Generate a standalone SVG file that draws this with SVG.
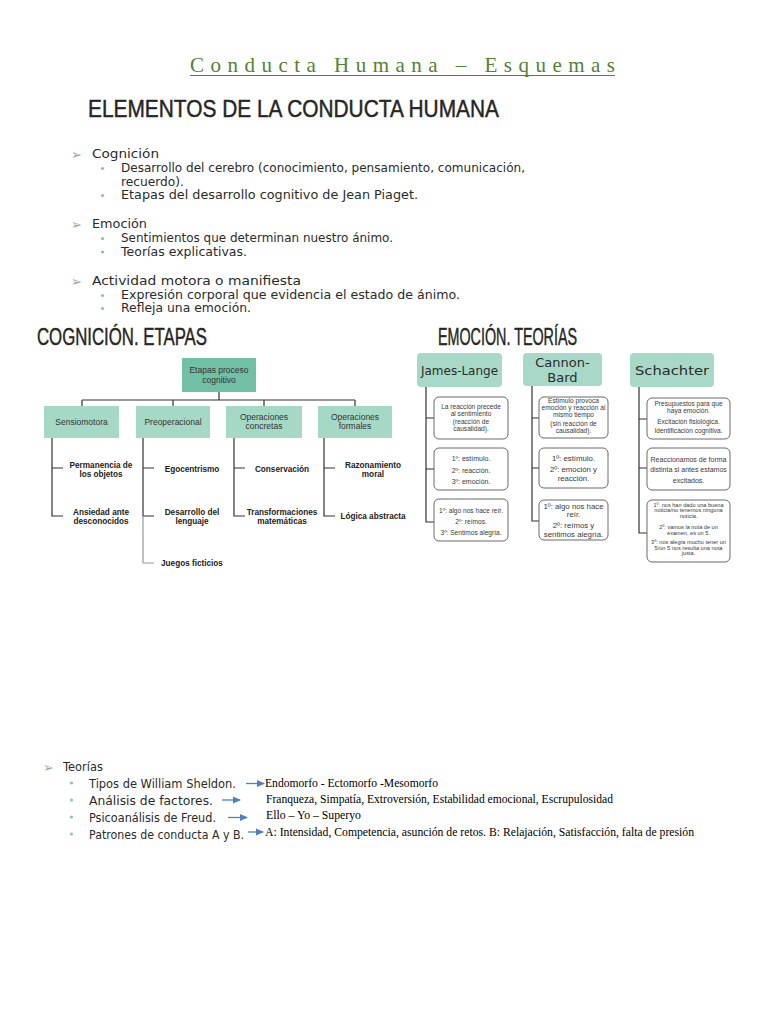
<svg xmlns="http://www.w3.org/2000/svg" width="768" height="1024" viewBox="0 0 768 1024">
<defs>
<style>
.title{font-family:"Liberation Serif",serif;font-size:21px;fill:#538135}
.hd{font-family:"Liberation Sans Narrow","Liberation Sans",sans-serif;font-size:23px;fill:#262626;stroke:#262626;stroke-width:0.45}
.b1{font-family:"DejaVu Sans",sans-serif;font-size:12.5px;fill:#2b2b2b}
.b2{font-family:"DejaVu Sans",sans-serif;font-size:11.5px;fill:#2b2b2b}
.arr{font-family:"DejaVu Sans",sans-serif;font-size:13px;fill:#8fac8f}
.dot{fill:#86c4ae}
.root{fill:#71bfa5}
.lvl{fill:#a6d8c6}
.bx{font-family:"Liberation Sans",sans-serif;font-size:8.5px;fill:#333;text-anchor:middle}
.ch{font-family:"Liberation Sans",sans-serif;font-size:8.2px;font-weight:bold;fill:#222;text-anchor:middle}
.ln{stroke:#333;stroke-width:1.2;fill:none}
.lng{stroke:#999;stroke-width:1.2;fill:none}
.eh{fill:#a8d8c7}
.eht{font-family:"DejaVu Sans",sans-serif;font-size:13px;fill:#2b2b2b;text-anchor:middle}
.eb{fill:#fff;stroke:#6a6a6a;stroke-width:1}
.s6{font-family:"Liberation Sans",sans-serif;font-size:6.6px;fill:#3a3a3a;text-anchor:middle}
.s7{font-family:"Liberation Sans",sans-serif;font-size:7px;fill:#3a3a3a;text-anchor:middle}
.s8{font-family:"Liberation Sans",sans-serif;font-size:7.8px;fill:#3a3a3a;text-anchor:middle}
.s5{font-family:"Liberation Sans",sans-serif;font-size:5.6px;fill:#3a3a3a;text-anchor:middle}
.tr{font-family:"Liberation Serif",serif;font-size:11.5px;fill:#000}
.blue{stroke:#4f81bd;stroke-width:1.3;fill:none}
</style>
<marker id="ah" markerWidth="8" markerHeight="8" refX="7" refY="4" orient="auto" markerUnits="userSpaceOnUse">
<path d="M0,0.5 L8,4 L0,7.5 Z" fill="#4f81bd"/>
</marker>
</defs>
<rect width="768" height="1024" fill="#fff"/>

<!-- Title -->
<g id="title">
<text class="title" x="190" y="72" textLength="425" lengthAdjust="spacing">Conducta Humana – Esquemas</text>
<line x1="190" y1="75.5" x2="615" y2="75.5" stroke="#538135" stroke-width="1"/>
</g>

<g id="elementos">
<text class="hd" x="88" y="116.5" textLength="411" lengthAdjust="spacingAndGlyphs">ELEMENTOS DE LA CONDUCTA HUMANA</text>
<text class="arr" x="71" y="158.5">➢</text>
<text class="b1" x="92" y="158" textLength="67" lengthAdjust="spacingAndGlyphs">Cognición</text>
<circle class="dot" cx="102.5" cy="168.5" r="1.6"/>
<text class="b2" x="121" y="172" textLength="404" lengthAdjust="spacingAndGlyphs">Desarrollo del cerebro (conocimiento, pensamiento, comunicación,</text>
<text class="b2" x="121" y="185.5" textLength="63" lengthAdjust="spacingAndGlyphs">recuerdo).</text>
<circle class="dot" cx="102.5" cy="195.5" r="1.6"/>
<text class="b2" x="121" y="199" textLength="297" lengthAdjust="spacingAndGlyphs">Etapas del desarrollo cognitivo de Jean Piaget.</text>
<text class="arr" x="71" y="228.5">➢</text>
<text class="b1" x="92" y="228" textLength="55" lengthAdjust="spacingAndGlyphs">Emoción</text>
<circle class="dot" cx="102.5" cy="238.5" r="1.6"/>
<text class="b2" x="121" y="242" textLength="272" lengthAdjust="spacingAndGlyphs">Sentimientos que determinan nuestro ánimo.</text>
<circle class="dot" cx="102.5" cy="252" r="1.6"/>
<text class="b2" x="121" y="255.5" textLength="126" lengthAdjust="spacingAndGlyphs">Teorías explicativas.</text>
<text class="arr" x="71" y="285.5">➢</text>
<text class="b1" x="92" y="285" textLength="209" lengthAdjust="spacingAndGlyphs">Actividad motora o manifiesta</text>
<circle class="dot" cx="102.5" cy="295.5" r="1.6"/>
<text class="b2" x="121" y="299" textLength="339" lengthAdjust="spacingAndGlyphs">Expresión corporal que evidencia el estado de ánimo.</text>
<circle class="dot" cx="102.5" cy="308.5" r="1.6"/>
<text class="b2" x="121" y="312" textLength="130" lengthAdjust="spacingAndGlyphs">Refleja una emoción.</text>
</g>

<!-- COGNICION -->
<text class="hd" x="37" y="345" textLength="170" lengthAdjust="spacingAndGlyphs">COGNICIÓN. ETAPAS</text>

<g id="cog-connectors">
<path class="ln" d="M219,392 V400 M82,400 H355 M82,400 V406 M173,400 V406 M264,400 V406 M355,400 V406"/>
<path class="ln" d="M52,438 V516 H63 M52,468 H63"/>
<path class="ln" d="M143,438 V516 M143,468 H154 M143,516 H154"/>
<path class="lng" d="M143,516 V563 H154"/>
<path class="ln" d="M234,438 V516 H245 M234,468 H245"/>
<path class="ln" d="M324,438 V516 H335 M324,468 H335"/>
</g>

<g id="cog-root">
<rect class="root" x="182" y="358" width="74" height="34"/>
<text class="bx" x="219" y="373">Etapas proceso</text>
<text class="bx" x="219" y="383">cognitivo</text>
</g>
<g id="cog-sensiomotora">
<rect class="lvl" x="44" y="406" width="75" height="32"/>
<text class="bx" x="81.5" y="425">Sensiomotora</text>
</g>
<g id="cog-preoperacional">
<rect class="lvl" x="136" y="406" width="74" height="32"/>
<text class="bx" x="173" y="425">Preoperacional</text>
</g>
<g id="cog-concretas">
<rect class="lvl" x="226" y="406" width="76" height="32"/>
<text class="bx" x="264" y="420">Operaciones</text>
<text class="bx" x="264" y="429">concretas</text>
</g>
<g id="cog-formales">
<rect class="lvl" x="318" y="406" width="74" height="32"/>
<text class="bx" x="355" y="420">Operaciones</text>
<text class="bx" x="355" y="429">formales</text>
</g>
<g id="cog-permanencia"><text class="ch" x="101" y="467.5">Permanencia de</text><text class="ch" x="101" y="476.5">los objetos</text></g>
<g id="cog-ansiedad"><text class="ch" x="101" y="514.5">Ansiedad ante</text><text class="ch" x="101" y="523.5">desconocidos</text></g>
<g id="cog-egocentrismo"><text class="ch" x="192" y="472">Egocentrismo</text></g>
<g id="cog-lenguaje"><text class="ch" x="192" y="514.5">Desarrollo del</text><text class="ch" x="192" y="523.5">lenguaje</text></g>
<g id="cog-juegos"><text class="ch" x="192" y="566">Juegos ficticios</text></g>
<g id="cog-conservacion"><text class="ch" x="282" y="472">Conservación</text></g>
<g id="cog-transformaciones"><text class="ch" x="282" y="514.5">Transformaciones</text><text class="ch" x="282" y="523.5">matemáticas</text></g>
<g id="cog-razonamiento"><text class="ch" x="373" y="467.5">Razonamiento</text><text class="ch" x="373" y="476.5">moral</text></g>
<g id="cog-logica"><text class="ch" x="373" y="518.5">Lógica abstracta</text></g>

<!-- EMOCION -->
<text class="hd" x="438" y="345" textLength="139" lengthAdjust="spacingAndGlyphs">EMOCIÓN. TEORÍAS</text>

<g id="emo-connectors">
<path class="ln" d="M426,387 V522 H434 M426,418 H434 M426,469 H434"/>
<path class="ln" d="M532,386 V521 H539 M532,418 H539 M532,468 H539"/>
<path class="ln" d="M639,387 V533 H647 M639,419 H647 M639,468 H647"/>
</g>

<g id="emo-james">
<rect class="eh" x="417" y="353" width="85" height="34" rx="4"/>
<text class="eht" x="459.5" y="375" textLength="77" lengthAdjust="spacingAndGlyphs">James-Lange</text>
</g>
<g id="emo-cannon">
<rect class="eh" x="523" y="353" width="79" height="33" rx="4"/>
<text class="eht" x="562.5" y="367">Cannon-</text>
<text class="eht" x="562.5" y="382">Bard</text>
</g>
<g id="emo-schachter">
<rect class="eh" x="630" y="353" width="84" height="34" rx="4"/>
<text class="eht" x="672" y="375" textLength="74" lengthAdjust="spacingAndGlyphs">Schachter</text>
</g>

<g id="emo-jl1">
<rect class="eb" x="434" y="397" width="74" height="42" rx="5"/>
<text class="s6" x="471" y="409">La reacción precede</text>
<text class="s6" x="471" y="416.3">al sentimiento</text>
<text class="s6" x="471" y="423.6">(reacción de</text>
<text class="s6" x="471" y="430.9">causalidad).</text>
</g>
<g id="emo-jl2">
<rect class="eb" x="434" y="448" width="74" height="42" rx="5"/>
<text class="s7" x="471" y="461">1º: estímulo.</text>
<text class="s7" x="471" y="472.5">2º: reacción.</text>
<text class="s7" x="471" y="484">3º: emoción.</text>
</g>
<g id="emo-jl3">
<rect class="eb" x="434" y="499" width="74" height="42" rx="5"/>
<text class="s6" x="471" y="512.5">1º: algo nos hace reír.</text>
<text class="s6" x="471" y="524">2º: reímos.</text>
<text class="s6" x="471" y="534.5">3º: Sentimos alegría.</text>
</g>

<g id="emo-cb1">
<rect class="eb" x="539" y="397" width="69" height="41" rx="5"/>
<text class="s6" x="573.5" y="403.3">Estímulo provoca</text>
<text class="s6" x="573.5" y="410.3">emoción y reacción al</text>
<text class="s6" x="573.5" y="417.3">mismo tiempo</text>
<text class="s6" x="573.5" y="425.8">(sin reacción de</text>
<text class="s6" x="573.5" y="432.8">causalidad).</text>
</g>
<g id="emo-cb2">
<rect class="eb" x="539" y="448" width="69" height="40" rx="5"/>
<text class="s8" x="573.5" y="460.5">1º: estímulo.</text>
<text class="s8" x="573.5" y="472">2º: emoción y</text>
<text class="s8" x="573.5" y="480.5">reacción.</text>
</g>
<g id="emo-cb3">
<rect class="eb" x="539" y="500" width="69" height="40" rx="5"/>
<text class="s8" x="573.5" y="509">1º: algo nos hace</text>
<text class="s8" x="573.5" y="517">reír.</text>
<text class="s8" x="573.5" y="528">2º: reímos y</text>
<text class="s8" x="573.5" y="536.5">sentimos alegría.</text>
</g>

<g id="emo-sch1">
<rect class="eb" x="647" y="398" width="83" height="41" rx="5"/>
<text class="s6" x="688.5" y="405.5">Presupuestos para que</text>
<text class="s6" x="688.5" y="412.5">haya emoción.</text>
<text class="s6" x="688.5" y="423.5">Excitación fisiológica.</text>
<text class="s6" x="688.5" y="432.5">Identificación cognitiva.</text>
</g>
<g id="emo-sch2">
<rect class="eb" x="647" y="448" width="83" height="42" rx="5"/>
<text class="s7" x="688.5" y="461.5">Reaccionamos de forma</text>
<text class="s7" x="688.5" y="471.5">distinta si antes estamos</text>
<text class="s7" x="688.5" y="482.5">excitados.</text>
</g>
<g id="emo-sch3">
<rect class="eb" x="647" y="500" width="83" height="62" rx="5"/>
<text class="s5" x="688.5" y="506.5">1º: nos han dado una buena</text>
<text class="s5" x="688.5" y="512.2">noticia/no tenemos ninguna</text>
<text class="s5" x="688.5" y="517.5">noticia.</text>
<text class="s5" x="688.5" y="528.8">2º: vamos la nota de un</text>
<text class="s5" x="688.5" y="534.5">examen, es un 5.</text>
<text class="s5" x="688.5" y="543.8">3º: nos alegra mucho tener un</text>
<text class="s5" x="688.5" y="549.5">5/un 5 nos resulta una nota</text>
<text class="s5" x="688.5" y="555">justa.</text>
</g>

<!-- TEORIAS -->
<g id="teorias-list">
<text class="arr" x="43" y="771.5">➢</text>
<text class="b2" x="63" y="771" textLength="40" lengthAdjust="spacingAndGlyphs">Teorías</text>
<circle class="dot" cx="71.5" cy="783" r="1.6"/>
<text class="b1" x="89" y="787.5" textLength="147" lengthAdjust="spacingAndGlyphs">Tipos de William Sheldon.</text>
<circle class="dot" cx="71.5" cy="800" r="1.6"/>
<text class="b1" x="89" y="804.5" textLength="124" lengthAdjust="spacingAndGlyphs">Análisis de factores.</text>
<circle class="dot" cx="71.5" cy="817" r="1.6"/>
<text class="b1" x="89" y="821.5" textLength="127" lengthAdjust="spacingAndGlyphs">Psicoanálisis de Freud.</text>
<circle class="dot" cx="71.5" cy="834" r="1.6"/>
<text class="b1" x="89" y="838.5" textLength="155" lengthAdjust="spacingAndGlyphs">Patrones de conducta A y B.</text>
</g>
<g id="teorias-connectors">
<line class="blue" x1="246" y1="783.5" x2="264" y2="783.5" marker-end="url(#ah)"/>
<line class="blue" x1="222" y1="800" x2="240" y2="800" marker-end="url(#ah)"/>
<line class="blue" x1="228" y1="817.5" x2="247" y2="817.5" marker-end="url(#ah)"/>
<line class="blue" x1="248" y1="832" x2="263" y2="832" marker-end="url(#ah)"/>
</g>
<g id="teorias-detail">
<text class="tr" x="265" y="786.5" textLength="173" lengthAdjust="spacingAndGlyphs">Endomorfo - Ectomorfo -Mesomorfo</text>
<text class="tr" x="266" y="802.5" textLength="347" lengthAdjust="spacingAndGlyphs">Franqueza, Simpatía, Extroversión, Estabilidad emocional, Escrupulosidad</text>
<text class="tr" x="266" y="819" textLength="95" lengthAdjust="spacingAndGlyphs">Ello – Yo – Superyo</text>
<text class="tr" x="265" y="835.5" textLength="429" lengthAdjust="spacingAndGlyphs">A: Intensidad, Competencia, asunción de retos.  B: Relajación, Satisfacción, falta de presión</text>
</g>
</svg>
